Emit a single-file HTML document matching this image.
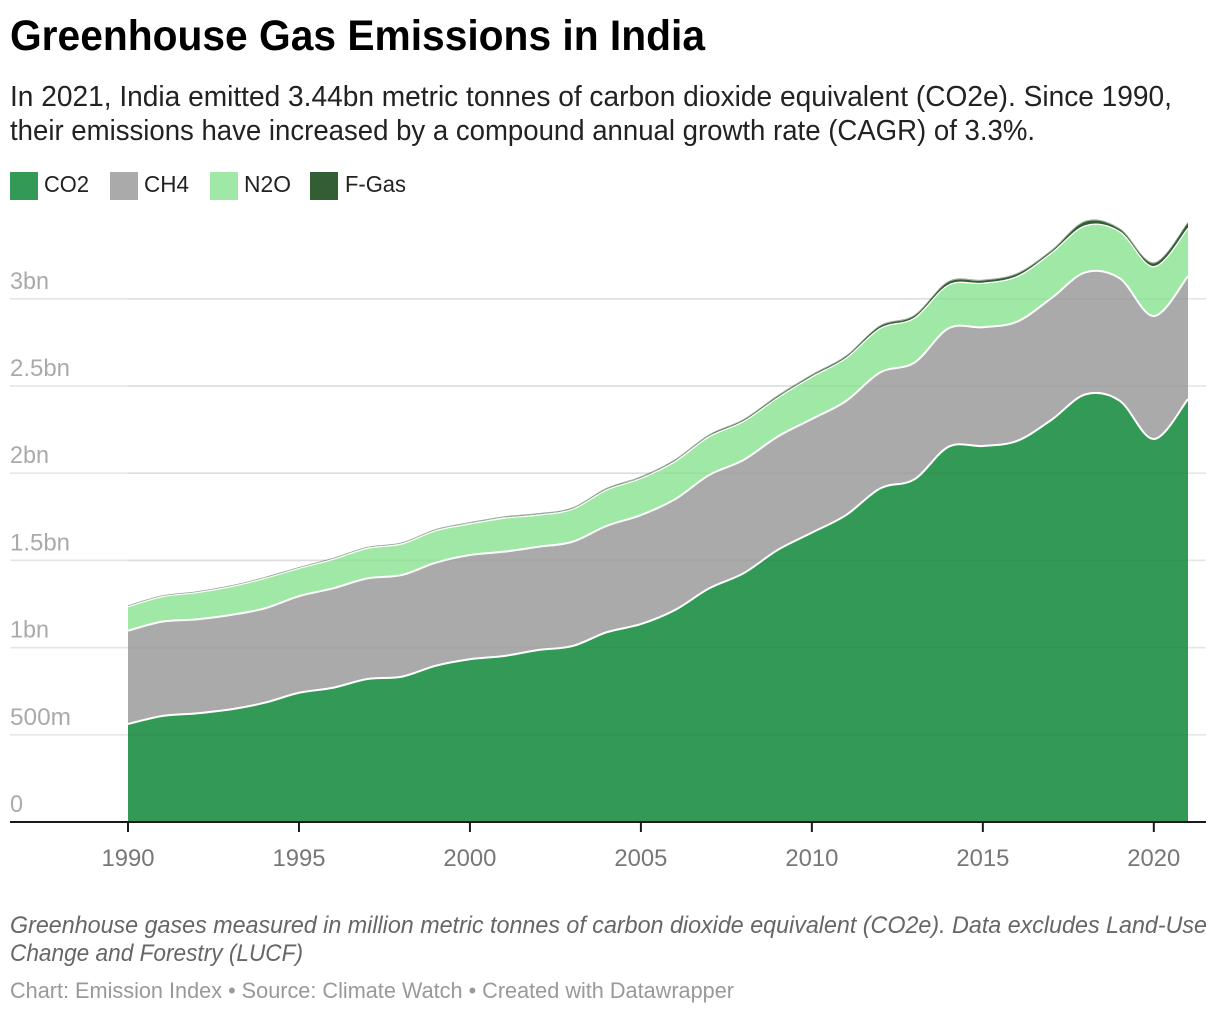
<!DOCTYPE html>
<html lang="en">
<head>
<meta charset="utf-8">
<title>Greenhouse Gas Emissions in India</title>
<style>
html,body{margin:0;padding:0;background:#fff;}
body{width:1220px;height:1014px;overflow:hidden;}
svg{display:block;font-family:"Liberation Sans",sans-serif;}
</style>
</head>
<body>
<svg id="chart" width="1220" height="1014" viewBox="0 0 1220 1014" xmlns="http://www.w3.org/2000/svg">
  <text x="10" y="50" font-size="43" font-weight="700" fill="#000" textLength="695" lengthAdjust="spacingAndGlyphs">Greenhouse Gas Emissions in India</text>
  <text x="10" y="106" font-size="29" fill="#222" textLength="1162" lengthAdjust="spacingAndGlyphs">In 2021, India emitted 3.44bn metric tonnes of carbon dioxide equivalent (CO2e). Since 1990,</text>
  <text x="10" y="140" font-size="29" fill="#222" textLength="1025" lengthAdjust="spacingAndGlyphs">their emissions have increased by a compound annual growth rate (CAGR) of 3.3%.</text>

  <g>
    <g>
      <rect x="10" y="172" width="28" height="28" fill="#339957"/>
      <text x="44" y="192" font-size="23.5" fill="#222" textLength="45" lengthAdjust="spacingAndGlyphs">CO2</text>
    </g>
    <g>
      <rect x="110" y="172" width="28" height="28" fill="#aaaaaa"/>
      <text x="144" y="192" font-size="23.5" fill="#222" textLength="45" lengthAdjust="spacingAndGlyphs">CH4</text>
    </g>
    <g>
      <rect x="210" y="172" width="28" height="28" fill="#a0e8a5"/>
      <text x="244" y="192" font-size="23.5" fill="#222" textLength="47" lengthAdjust="spacingAndGlyphs">N2O</text>
    </g>
    <g>
      <rect x="310" y="172" width="28" height="28" fill="#335d33"/>
      <text x="345" y="192" font-size="23.5" fill="#222" textLength="61" lengthAdjust="spacingAndGlyphs">F-Gas</text>
    </g>
  </g>

  <g id="grid-under"></g>
  <g id="y-labels"></g>
  <g id="areas"></g>
  <g id="grid-over"></g>
  <g id="x-axis"></g>

  <text x="10" y="933" font-size="24" font-style="italic" fill="#666" textLength="1197" lengthAdjust="spacingAndGlyphs">Greenhouse gases measured in million metric tonnes of carbon dioxide equivalent (CO2e). Data excludes Land-Use</text>
  <text x="10" y="961" font-size="24" font-style="italic" fill="#666" textLength="293" lengthAdjust="spacingAndGlyphs">Change and Forestry (LUCF)</text>
  <text x="10" y="998" font-size="22.5" fill="#999" textLength="724" lengthAdjust="spacingAndGlyphs">Chart: Emission Index • Source: Climate Watch • Created with Datawrapper</text>
</svg>
<script>
// Emissions in million tonnes CO2e, one value per year from 1990 to 2021
const years = [1990,1991,1992,1993,1994,1995,1996,1997,1998,1999,2000,2001,2002,2003,2004,2005,2006,2007,2008,2009,2010,2011,2012,2013,2014,2015,2016,2017,2018,2019,2020,2021];
const co2 = [562,608,623,646,684,741,770,820,833,896,933,952,986,1009,1088,1135,1216,1340,1426,1560,1659,1760,1913,1965,2152,2156,2185,2305,2452,2416,2196,2425];
const ch4 = [535,541,539,541,541,554,570,577,583,591,598,598,592,598,610,625,635,650,650,650,652,654,665,669,679,681,684,698,700,702,705,705];
const n2o = [138,143,153,162,172,159,166,172,178,183,178,192,182,186,206,210,216,220,220,222,241,245,252,255,248,252,258,258,267,267,283,274];
const fGas = [2,2,2,2,2,2,3,3,3,4,5,5,5,5,6,6,7,7,8,9,9,10,13,13,17,15,15,12,23,14,19,30];
const yTicks = [0,500,1000,1500,2000,2500,3000];
const yTickLabels = ["0","500m","1bn","1.5bn","2bn","2.5bn","3bn"];
const yLabelWidths = [13,61,39,60,39,60,39];
const xTicks = [1990,1995,2000,2005,2010,2015,2020];

const NS = "http://www.w3.org/2000/svg";
function xScale(year){ return 128 + (year - 1990) * (1060 / 31); }
function yScale(value){ return 822 - value * 0.1744; }

function curve(points){
  let d = "M" + points[0][0].toFixed(2) + "," + points[0][1].toFixed(2);
  const k = 1 / 6;
  for (let i = 0; i < points.length - 1; i++){
    const p0 = points[Math.max(i - 1, 0)];
    const p1 = points[i];
    const p2 = points[i + 1];
    const p3 = points[Math.min(i + 2, points.length - 1)];
    d += "C" + (p1[0] + k * (p2[0] - p0[0])).toFixed(2) + "," + (p1[1] + k * (p2[1] - p0[1])).toFixed(2) +
         " " + (p2[0] + k * (p1[0] - p3[0])).toFixed(2) + "," + (p2[1] + k * (p1[1] - p3[1])).toFixed(2) +
         " " + p2[0].toFixed(2) + "," + p2[1].toFixed(2);
  }
  return d;
}

const areasGroup = document.getElementById("areas");
const layers = [
  {key: "co2", values: co2, fill: "#339957"},
  {key: "ch4", values: ch4, fill: "#aaaaaa"},
  {key: "n2o", values: n2o, fill: "#a0e8a5"},
  {key: "f-gas", values: fGas, fill: "#335d33"}
];

let running = years.map(function(){ return 0; });
const stacked = layers.map(function(layer){
  const upper = running.map(function(v, i){ return v + layer.values[i]; });
  running = upper;
  return {key: layer.key, fill: layer.fill, upper: upper};
});

// Paint from the top band down so each lower band and its white edge sits above the band over it
for (let s = stacked.length - 1; s >= 0; s--){
  const band = stacked[s];
  const top = curve(years.map(function(y, i){ return [xScale(y), yScale(band.upper[i])]; }));
  const lastX = xScale(years[years.length - 1]);
  const firstX = xScale(years[0]);
  const area = document.createElementNS(NS, "path");
  area.setAttribute("d", top + "L" + lastX + ",821L" + firstX + ",821Z");
  area.setAttribute("fill", band.fill);
  
  
  areasGroup.appendChild(area);
  if (s < 3){
    const edge = document.createElementNS(NS, "path");
    edge.setAttribute("d", top);
    edge.setAttribute("fill", "none");
    edge.setAttribute("stroke", "#fff");
    edge.setAttribute("stroke-width", s === 2 ? "1.3" : "2");
    
    
    areasGroup.appendChild(edge);
  }
}

// Thin dark trace along the very top of the stack, where the F-Gas band is too thin to show as a fill
const topTrace = document.createElementNS(NS, "path");
topTrace.setAttribute("d", curve(years.map(function(y, i){ return [xScale(y), yScale(stacked[3].upper[i]) - 0.6]; })));
topTrace.setAttribute("fill", "none");
topTrace.setAttribute("stroke", "#335d33");
topTrace.setAttribute("stroke-width", "0.8");
topTrace.setAttribute("stroke-opacity", "0.55");


areasGroup.appendChild(topTrace);

const gridUnder = document.getElementById("grid-under");
const gridOver = document.getElementById("grid-over");
const yLabelGroup = document.getElementById("y-labels");
yTicks.forEach(function(t, i){
  if (t > 0){
    const line = document.createElementNS(NS, "line");
    line.setAttribute("x1", 10);
    line.setAttribute("x2", 1206);
    line.setAttribute("y1", yScale(t));
    line.setAttribute("y2", yScale(t));
    line.setAttribute("stroke", "#e6e6e6");
    line.setAttribute("stroke-width", "1.7");
    
    
    gridUnder.appendChild(line);
    const overlay = document.createElementNS(NS, "line");
    overlay.setAttribute("x1", 128);
    overlay.setAttribute("x2", 1188);
    overlay.setAttribute("y1", yScale(t));
    overlay.setAttribute("y2", yScale(t));
    overlay.setAttribute("stroke", "#000");
    overlay.setAttribute("stroke-opacity", "0.035");
    overlay.setAttribute("stroke-width", "1.7");
    
    
    gridOver.appendChild(overlay);
  }
  const label = document.createElementNS(NS, "text");
  label.setAttribute("x", 10);
  label.setAttribute("y", yScale(t) - 10);
  label.setAttribute("font-size", "24");
  label.setAttribute("fill", "#aaa");
  label.setAttribute("textLength", yLabelWidths[i]);
  label.setAttribute("lengthAdjust", "spacingAndGlyphs");
  
  
  label.textContent = yTickLabels[i];
  yLabelGroup.appendChild(label);
});

const xGroup = document.getElementById("x-axis");
const baseline = document.createElementNS(NS, "line");
baseline.setAttribute("x1", 10);
baseline.setAttribute("x2", 1206);
baseline.setAttribute("y1", 822);
baseline.setAttribute("y2", 822);
baseline.setAttribute("stroke", "#1a1a1a");
baseline.setAttribute("stroke-width", "2");


xGroup.appendChild(baseline);

xTicks.forEach(function(year){
  const tick = document.createElementNS(NS, "line");
  tick.setAttribute("x1", xScale(year));
  tick.setAttribute("x2", xScale(year));
  tick.setAttribute("y1", 822);
  tick.setAttribute("y2", 832);
  tick.setAttribute("stroke", "#1a1a1a");
  tick.setAttribute("stroke-width", "2");
  
  
  xGroup.appendChild(tick);
  const label = document.createElementNS(NS, "text");
  label.setAttribute("x", xScale(year));
  label.setAttribute("y", 866);
  label.setAttribute("font-size", "24");
  label.setAttribute("fill", "#777");
  label.setAttribute("text-anchor", "middle");
  label.setAttribute("textLength", 53);
  label.setAttribute("lengthAdjust", "spacingAndGlyphs");
  
  
  label.textContent = year;
  xGroup.appendChild(label);
});
</script>
</body>
</html>
